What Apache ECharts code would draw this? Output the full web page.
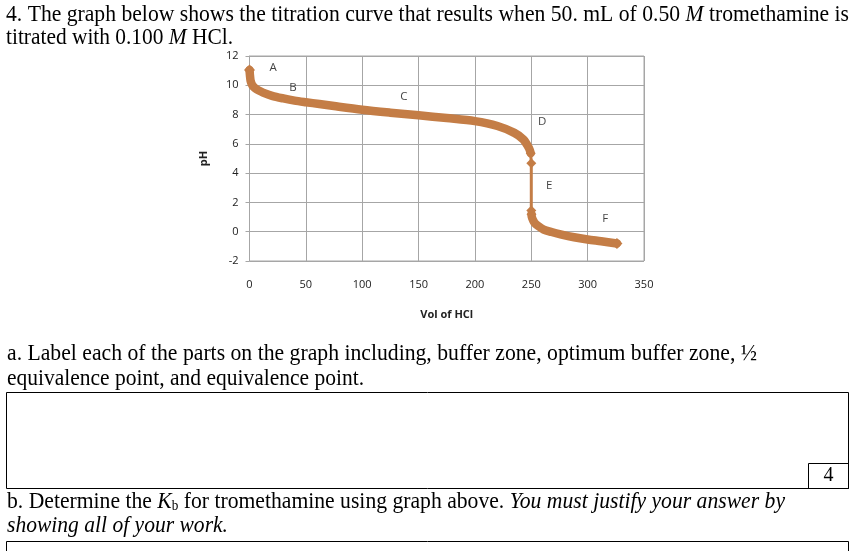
<!DOCTYPE html>
<html><head><meta charset="utf-8">
<script src="https://cdn.jsdelivr.net/npm/echarts@6/dist/echarts.min.js"></script>
<style>html,body{margin:0;padding:0;background:#fff}#c{width:855px;height:551px}</style>
</head><body><div id="c"></div>
<script>
// ---- data ----
const xTicks = [0, 50, 100, 150, 200, 250, 300, 350];
const yTicks = [-2, 0, 2, 4, 6, 8, 10, 12];
// buffer region (volume of HCl, pH)
const bufferVol = [0, 0.5, 1, 2.5, 5, 8, 12, 20, 30, 40, 50, 62, 75, 100, 125, 150, 175, 200, 220, 235, 243, 248, 249.5];
const bufferPH  = [11.04, 10.6, 10.3, 10.0, 9.8, 9.65, 9.5, 9.28, 9.1, 8.95, 8.84, 8.72, 8.58, 8.33, 8.13, 7.95, 7.76, 7.55, 7.22, 6.75, 6.3, 5.7, 5.36];
// equivalence jump
const jumpVol = [249.5, 250, 250, 250.2];
const jumpPH  = [5.36, 4.68, 1.45, 1.2];
// excess acid region
const acidVol = [250.2, 250.5, 251.5, 253, 256, 261, 268, 276, 288, 300, 312, 326];
const acidPH  = [1.2, 1.0, 0.8, 0.6, 0.4, 0.15, -0.02, -0.18, -0.38, -0.53, -0.65, -0.8];
// point labels
const labelNames = ['A', 'B', 'C', 'D', 'E', 'F'];
const labelVol = [20.9, 38.6, 137, 259.7, 265.9, 315.6];
const labelPH  = [11.18, 9.82, 9.2, 7.5, 3.13, 0.88];

const zip = (a, b) => a.map((v, i) => [v, b[i]]);
const curveColor = '#C47D46';
const gridColor = '#a6a6a6';

// ---- worksheet text ----
const SERIF = '"Liberation Serif", "Times New Roman", serif';
const FS = 23;
const SUB = 14;
const mctx = document.createElement('canvas').getContext('2d');
function segWidth(seg) {
  const size = seg.s === 'sub' ? SUB : FS;
  const style = (seg.s === 'i' || seg.s === 'sub') ? 'italic ' : '';
  mctx.font = style + size + 'px ' + SERIF;
  return mctx.measureText(seg.t).width;
}
function textLine(segs, x0, x1, yc) {
  const natural = segs.reduce((s, g) => s + segWidth(g), 0);
  const txt = segs.map(g => '{' + g.s + '|' + g.t + '}').join('');
  return {
    type: 'text', x: x0, y: yc, scaleX: (x1 - x0) / natural, silent: true,
    style: {
      text: txt, x: 0, y: 0, fill: '#000',
      align: 'left', verticalAlign: 'middle', textAlign: 'left', textVerticalAlign: 'middle',
      font: FS + 'px ' + SERIF,
      rich: {
        n: { fontFamily: SERIF, fontSize: FS, fill: '#000', color: '#000' },
        i: { fontFamily: SERIF, fontSize: FS, fontStyle: 'italic', fill: '#000', color: '#000' },
        sub: { fontFamily: SERIF, fontSize: SUB, fill: '#000', color: '#000', verticalAlign: 'bottom', padding: [9, 0, 0, 0] }
      }
    }
  };
}
const graphics = [
  textLine([{t: '4. The graph below shows the titration curve that results when 50. mL of 0.50 ', s: 'n'}, {t: 'M', s: 'i'}, {t: ' tromethamine is', s: 'n'}], 6, 849, 15),
  textLine([{t: 'titrated with 0.100 ', s: 'n'}, {t: 'M', s: 'i'}, {t: ' HCl.', s: 'n'}], 6, 233, 38),
  textLine([{t: 'a. Label each of the parts on the graph including, buffer zone, optimum buffer zone, \u00BD', s: 'n'}], 7, 757, 354),
  textLine([{t: 'equivalence point, and equivalence point.', s: 'n'}], 7, 364, 378.5),
  textLine([{t: 'b. Determine the ', s: 'n'}, {t: 'K', s: 'i'}, {t: 'b', s: 'sub'}, {t: ' for tromethamine using graph above. ', s: 'n'}, {t: 'You must justify your answer by', s: 'i'}], 7, 785, 502),
  textLine([{t: 'showing all of your work.', s: 'i'}], 7, 228, 526),
  { type: 'rect', shape: { x: 6.5, y: 392.5, width: 842, height: 96 }, style: { fill: 'none', stroke: '#000', lineWidth: 1 }, silent: true },
  { type: 'rect', shape: { x: 808.5, y: 463.5, width: 40, height: 25 }, style: { fill: 'none', stroke: '#000', lineWidth: 1 }, silent: true },
  { type: 'text', x: 828.5, y: 476, silent: true, style: { text: '4', font: '20px ' + SERIF, fill: '#000', align: 'center', verticalAlign: 'middle', textAlign: 'center', textVerticalAlign: 'middle' } },
  { type: 'rect', shape: { x: 6.5, y: 541.5, width: 842, height: 40 }, style: { fill: 'none', stroke: '#000', lineWidth: 1 }, silent: true }
];

const chart = echarts.init(document.getElementById('c'), null, { renderer: 'canvas' });
const sans = '"Open Sans", "Liberation Sans", sans-serif';
chart.setOption({
  animation: false,
  backgroundColor: '#fff',
  grid: { left: 249.5, right: 211, top: 56, bottom: 290, show: true, borderColor: gridColor, borderWidth: 1 },
  xAxis: {
    type: 'value', min: xTicks[0], max: xTicks[xTicks.length - 1], interval: 50,
    name: 'Vol of HCl', nameLocation: 'middle', nameGap: 48,
    nameTextStyle: { fontFamily: sans, fontSize: 11, fontWeight: 'bold', color: '#222' },
    axisLine: { show: false }, axisTick: { show: false },
    axisLabel: { margin: 18, fontFamily: sans, fontSize: 11, color: '#222' },
    splitLine: { show: true, lineStyle: { color: gridColor, width: 1 } }
  },
  yAxis: {
    type: 'value', min: yTicks[0], max: yTicks[yTicks.length - 1], interval: 2,
    name: 'pH', nameLocation: 'middle', nameGap: 40, nameRotate: 90,
    nameTextStyle: { fontFamily: sans, fontSize: 11, fontWeight: 'bold', color: '#222' },
    axisLine: { show: true, onZero: false, lineStyle: { color: gridColor } },
    axisTick: { show: true, length: 4, lineStyle: { color: gridColor } },
    axisLabel: { margin: 11, fontFamily: sans, fontSize: 11, color: '#222' },
    splitLine: { show: true, lineStyle: { color: gridColor, width: 1 } }
  },
  series: [
    {
      type: 'line', data: zip(bufferVol, bufferPH), smooth: 0.3,
      symbol: (v, p) => p.dataIndex === 0 ? 'diamond' : 'none', symbolSize: 11, showSymbol: true, showAllSymbol: true,
      lineStyle: { color: curveColor, width: 8.5, cap: 'round', join: 'round' },
      itemStyle: { color: curveColor }, z: 3
    },
    {
      type: 'line', data: zip(jumpVol, jumpPH),
      symbol: 'diamond', symbolSize: 10, showSymbol: true, showAllSymbol: true,
      lineStyle: { color: curveColor, width: 3 }, itemStyle: { color: curveColor }, z: 3
    },
    {
      type: 'line', data: zip(acidVol, acidPH), smooth: 0.3,
      symbol: (v, p) => p.dataIndex === acidVol.length - 1 ? 'diamond' : 'none', symbolSize: 11, showSymbol: true, showAllSymbol: true,
      lineStyle: { color: curveColor, width: 8.5, cap: 'round', join: 'round' },
      itemStyle: { color: curveColor }, z: 3
    },
    {
      type: 'scatter', symbolSize: 0, z: 4,
      data: labelNames.map((n, i) => ({ name: n, value: [labelVol[i], labelPH[i]] })),
      label: { show: true, position: 'inside', formatter: p => p.name, fontFamily: sans, fontSize: 11.5, color: '#111' }
    }
  ],
  graphic: graphics
});
</script>
</body></html>
